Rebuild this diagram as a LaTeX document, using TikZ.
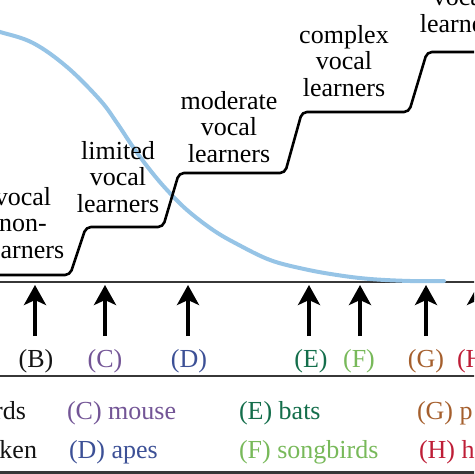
\documentclass[tikz,border=0pt]{standalone}
\usepackage{fontspec}
\setmainfont{Liberation Serif}
\usetikzlibrary{arrows.meta}
\definecolor{curveblue}{RGB}{150,196,230}
\definecolor{rulegray}{RGB}{55,55,55}
\definecolor{cB}{RGB}{20,20,20}
\definecolor{cC}{RGB}{115,85,150}
\definecolor{cD}{RGB}{60,80,150}
\definecolor{cE}{RGB}{20,110,75}
\definecolor{cF}{RGB}{120,185,90}
\definecolor{cG}{RGB}{165,95,45}
\definecolor{cH}{RGB}{190,30,55}
\begin{document}
\begin{tikzpicture}[x=0.5pt,y=-0.5pt,
  txt/.style={font=\fontsize{13}{13.3}\selectfont, inner sep=0pt, outer sep=0pt},
  stage/.style={txt, align=center, anchor=center},
  lab/.style={txt, anchor=base},
  leg/.style={txt, anchor=base west},
  rulel/.style={draw=rulegray, line width=1.1pt},
  stairs/.style={draw=black, line width=1.3pt, rounded corners=2.5pt},
  sig/.style={draw=curveblue, line width=2pt, line cap=round},
  up/.style={draw=black, line width=2pt, -{Stealth[length=10pt,width=11pt,inset=2.5pt]}}]
\useasboundingbox (0,0) rectangle (474,474);
\clip (0,0) rectangle (474,474);

% rules
\coordinate (r1a) at (-5,282); \coordinate (r1b) at (480,282);
\coordinate (r2a) at (-5,376); \coordinate (r2b) at (480,376);
\coordinate (r3a) at (-5,472.5); \coordinate (r3b) at (480,472.5);
\draw[rulel] (r1a) -- (r1b);
\draw[rulel] (r2a) -- (r2b);
\draw[rulel] (r3a) -- (r3b);

% blue sigmoid
\draw[sig] plot[smooth, tension=0.6] coordinates {(-20,27) (0,32) (33,43) (67,67) (100,100) (117,123) (133,147) (150,170) (167,190) (187,210) (213,230) (237,244) (270,260) (304,269) (337,275) (370,279) (410,281) (444,281)};

% staircase
\coordinate (s0) at (-5,275);
\coordinate (s9) at (480,52);
\draw[stairs] (s0) -- (70,275) -- (86,227) -- (163,227) -- (179,173) -- (285,173) -- (302,112) -- (409,112) -- (427,52) -- (s9);

% stage labels
\node[stage] (nonl) at (23,223) {vocal\\non-\\learners};
\node[stage] (liml) at (118,177) {limited\\vocal\\learners};
\node[stage] (modl) at (229,127) {moderate\\vocal\\learners};
\node[stage] (coml) at (344,61) {complex\\vocal\\learners};
\node[stage] (higl) at (461,10) {vocal\\learners};

% arrows
\foreach \n/\x in {B/35,C/105,D/188,E/309,F/360,G/426,H/478}{
  \coordinate (t\n) at (\x,336);
  \coordinate (h\n) at (\x,285);
  \draw[up] (t\n) -- (h\n);
}

% arrow labels
\node[lab, text=cB] (lB) at (36,367) {(B)};
\node[lab, text=cC] (lC) at (105,367) {(C)};
\node[lab, text=cD] (lD) at (189,367) {(D)};
\node[lab, text=cE] (lE) at (311,367) {(E)};
\node[lab, text=cF] (lF) at (359,367) {(F)};
\node[lab, text=cG] (lG) at (426,367) {(G)};
\node[leg, text=cH] (lH) at (457,367) {(H)};

% legend
\node[txt, anchor=base east, text=cB] (gA) at (26,419) {rds};
\node[txt, anchor=base east, text=cB] (gB) at (37,458) {ken};
\node[leg, text=cC] (gC) at (67,419) {(C) mouse};
\node[leg, text=cD] (gD) at (69,458) {(D) apes};
\node[leg, text=cE] (gE) at (239,419) {(E) bats};
\node[leg, text=cF] (gF) at (239,458) {(F) songbirds};
\node[leg, text=cG] (gG) at (417,419) {(G) p};
\node[leg, text=cH] (gH) at (419,458) {(H) h};
\end{tikzpicture}
\end{document}
